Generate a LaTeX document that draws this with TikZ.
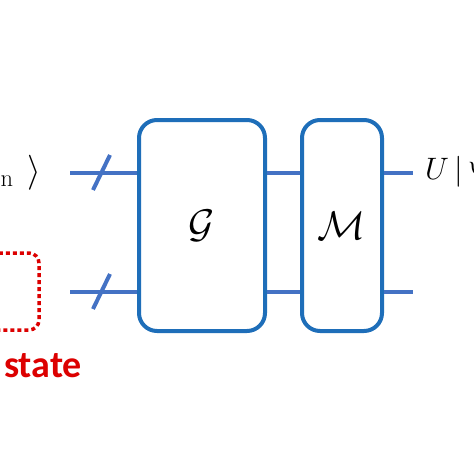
\RequirePackage{fix-cm}
\documentclass[tikz,border=0pt]{standalone}
\usepackage{amssymb,amsmath}
\usepackage{fontspec}
\newfontfamily\labelfont{Carlito}
\usepackage{tikz}
\usetikzlibrary{calc}

\definecolor{boxblue}{RGB}{30,110,185}
\definecolor{wireblue}{RGB}{68,114,196}
\definecolor{ancred}{RGB}{220,0,0}

\tikzset{
  gatebox/.style={draw=boxblue, line width=4pt, rounded corners=18pt, fill=white,
    minimum height=211pt, inner sep=0pt, font=\fontsize{40}{46}\selectfont},
  wire/.style={draw=wireblue, line width=4pt},
  ketlabel/.style={inner sep=0pt, font=\fontsize{31}{37}\selectfont}
}

\begin{document}
\begin{tikzpicture}[x=1pt, y=-1pt]
\useasboundingbox (0,0) rectangle (474,474);

\node [gatebox, minimum width=126pt] (G) at (202,225.5) {$\mathcal{G}$};
\node [gatebox, minimum width=80pt] (M) at (342,225.5) {$\mathcal{M}$};

\coordinate (in1) at (70,173);
\coordinate (in2) at (70,292);
\coordinate (out1) at (413,173);
\coordinate (out2) at (413,292);

\draw [wire] (in1) -- (in1 -| G.west);
\draw [wire] (in2) -- (in2 -| G.west);
\draw [wire] (G.east |- in1) -- (M.west |- in1);
\draw [wire] (G.east |- in2) -- (M.west |- in2);
\draw [wire] (M.east |- out1) -- (out1);
\draw [wire] (M.east |- out2) -- (out2);

% bundle marks
\draw [wire] ($(in1)+(23,17)$) -- ($(in1)+(40,-18)$);
\draw [wire] ($(in2)+(23,17)$) -- ($(in2)+(40,-18)$);

\node [ketlabel, anchor=base east, font=\fontsize{35}{42}\selectfont] (psiin) at (41,181) {$|\Psi_{\mathrm{in}}\mkern7mu\rangle$};
\node [ketlabel, anchor=base west] (psiout) at (425,179) {$U\,|\,\Psi_{\mathrm{in}}\rangle$};

% ancilla
\draw [ancred, line width=3.5pt, dash pattern=on 4pt off 3pt, rounded corners=10pt]
  (-60,253) rectangle (39,330);
\node [anchor=base west, inner sep=0pt, text=ancred, font=\labelfont\bfseries\fontsize{38}{45}\selectfont] (anclabel) at (4,377) {state};

\end{tikzpicture}
\end{document}
